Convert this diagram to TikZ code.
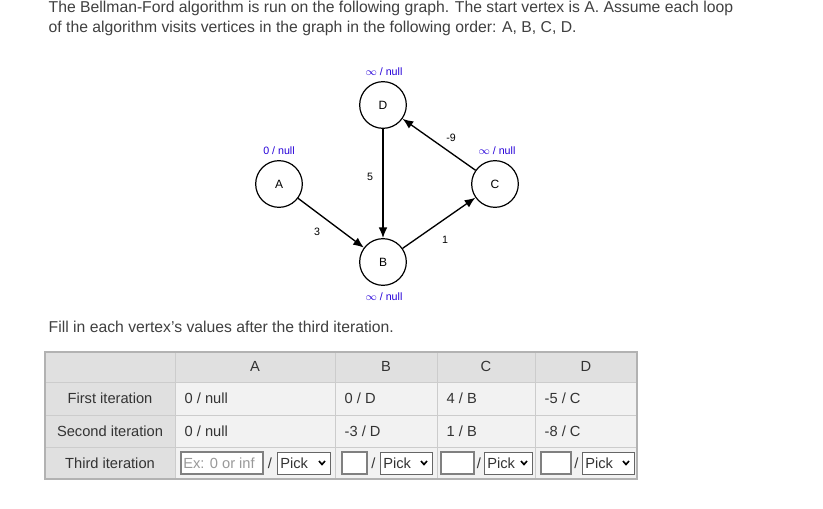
\documentclass[tikz,border=0pt]{standalone}
\usepackage{fontspec}
\setmainfont{Liberation Sans}
\usetikzlibrary{arrows.meta}
\begin{document}
\begin{tikzpicture}[x=0.75pt,y=-0.75pt,
  vert/.style={circle,draw,line width=0.9pt,minimum size=35pt,inner sep=0pt,font=\fontsize{9}{10}\selectfont},
  vlab/.style={text=blue!70!violet,font=\fontsize{8}{9}\selectfont},
  elab/.style={font=\fontsize{8}{9}\selectfont},
  edge/.style={-{Latex[length=8pt,width=6.5pt]},line width=1pt},
  body/.style={text=black!75,font=\fontsize{11.8}{13}\selectfont,anchor=west},
  cell/.style={text=black!80,font=\fontsize{11}{13}\selectfont},
  inbox/.style={draw=black!50,line width=1pt,fill=white},
  pickbox/.style={draw=black!60,fill=white}]
\useasboundingbox (0,0) rectangle (823,509);
\fill[white] (0,0) rectangle (823,509);
\node[body] (t1) at (44,8) {The Bellman-Ford algorithm is run on the following graph. The start vertex is A. Assume each loop};
\node[body] (t2) at (44,28) {of the algorithm visits vertices in the graph in the following order: A, B, C, D.};
\node[vert] (A) at (279,184) {A};
\node[vert] (D) at (383,105) {D};
\node[vert] (C) at (495,184) {C};
\node[vert] (B) at (383,262) {B};
\node[vlab] (la) at (279,151) {0 / null};
\node[vlab] (ld) at (384,72) {$\infty$ / null};
\node[vlab] (lc) at (497,151) {$\infty$ / null};
\node[vlab] (lb) at (384,297) {$\infty$ / null};
\draw[edge] (A) -- (B);
\draw[edge] (D) -- (B);
\draw[edge] (B) -- (C);
\draw[edge] (C) -- (D);
\node[elab] (e3) at (317,232) {3};
\node[elab] (e5) at (370,177) {5};
\node[elab] (e9) at (451,138) {-9};
\node[elab] (e1) at (445,240) {1};
\node[body] (fill) at (44,327) {Fill in each vertex's values after the third iteration.};
% table
\fill[black!5] (45,352) rectangle (637,479);
\fill[black!12] (45,352) rectangle (637,382);
\fill[black!12] (45,352) rectangle (175,479);
\foreach \y in {382,415,447} \draw[black!20] (45,\y) -- (637,\y);
\foreach \x in {175,335,437,535} \draw[black!20] (\x,352) -- (\x,479);
\draw[black!30,line width=1pt] (45,352) rectangle (637,479);
\node[cell] (hA) at (255,366) {A};
\node[cell] (hB) at (386,366) {B};
\node[cell] (hC) at (486,366) {C};
\node[cell] (hD) at (586,366) {D};
\node[cell] (r1) at (110,398) {First iteration};
\node[cell] (r2) at (110,431) {Second iteration};
\node[cell] (r3) at (110,463) {Third iteration};
\node[cell,anchor=west] (a1) at (180,398) {0 / null};
\node[cell,anchor=west] (b1) at (340,398) {0 / D};
\node[cell,anchor=west] (c1) at (442,398) {4 / B};
\node[cell,anchor=west] (d1) at (540,398) {-5 / C};
\node[cell,anchor=west] (a2) at (180,431) {0 / null};
\node[cell,anchor=west] (b2) at (340,431) {-3 / D};
\node[cell,anchor=west] (c2) at (442,431) {1 / B};
\node[cell,anchor=west] (d2) at (540,431) {-8 / C};
\foreach \ix/\iw/\px/\pw in {181/263/277/330, 342/367/380/432, 441/474/484/532, 541/571/582/634}{
  \draw[inbox] (\ix,452) rectangle (\iw,474);
  \node[cell] at ({(\iw+\px)/2},463) {/};
  \draw[pickbox] (\px,452) rectangle (\pw,474);
  \node[cell,anchor=west,inner sep=0pt] at (\px+3,463) {Pick};
  \draw[line width=1.2pt] (\pw-11,461) -- (\pw-8,464.5) -- (\pw-5,461);
}
\node[cell,text=black!40,anchor=west,inner sep=0pt] (ph) at (183,463) {Ex: 0 or inf};
\end{tikzpicture}
\end{document}
